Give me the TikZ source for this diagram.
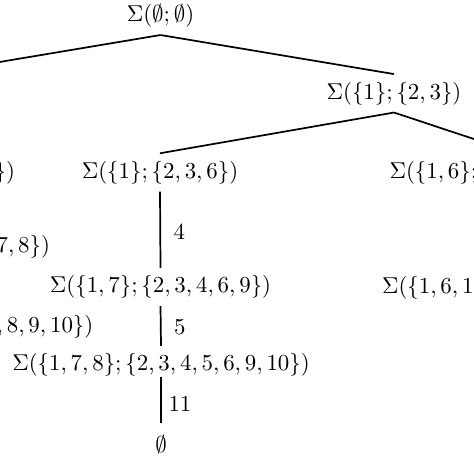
\documentclass[tikz,border=0pt]{standalone}
\begin{document}
\begin{tikzpicture}[x=0.437pt, y=-0.437pt,
  tnode/.style={inner sep=0pt, outer sep=3.4pt, text height=7.5pt, text depth=2.5pt},
  frag/.style={inner sep=0pt, outer sep=0pt, text height=7.5pt, text depth=2.5pt},
  lab/.style={inner sep=0pt},
  edge/.style={line width=0.75pt}]
\useasboundingbox (0,0) rectangle (474,474);
\clip (0,0) rectangle (474,474);
% nodes
\node[tnode] (root) at (160.5,15.8) {$\Sigma(\emptyset;\emptyset)$};
\coordinate (lchild) at (-72,74);
\node[tnode] (R) at (394,93.3) {$\Sigma(\{1\};\{2,3\})$};
\node[tnode] (A) at (160,172.5) {$\Sigma(\{1\};\{2,3,6\})$};
\coordinate (rchild) at (513,152);
\node[frag, anchor=west] (B) at (389.5,172.5) {$\Sigma(\{1,6\};$};
\node[tnode] (C) at (160.5,287) {$\Sigma(\{1,7\};\{2,3,4,6,9\})$};
\node[frag, anchor=west] (D) at (382,287.5) {$\Sigma(\{1,6,1$};
\node[tnode] (E) at (161,365) {$\Sigma(\{1,7,8\};\{2,3,4,5,6,9,10\})$};
\node[tnode] (F) at (161,446.7) {$\emptyset$};
% clipped fragments on the left
\node[frag, anchor=east] (L1) at (15,172.5) {$\})$};
\node[frag, anchor=east] (L2) at (50,246.5) {$7,8\})$};
\node[frag, anchor=east] (L3) at (93.3,326.5) {$,8,9,10\})$};
% edges
\draw[edge] (root.south) -- (lchild);
\draw[edge] (root.south) -- (R.north);
\draw[edge] (R.south) -- (A.north);
\draw[edge] (R.south) -- (rchild);
\draw[edge] (A.south) -- node[lab, xshift=8.3pt, yshift=-1pt] {$4$} (C.north);
\draw[edge] (C.south) -- node[lab, xshift=8.3pt, yshift=-0.5pt] {$5$} (E.north);
\draw[edge] ([yshift=3.1pt]E.south) -- node[lab, xshift=8.3pt, yshift=-1.7pt] {$11$} ([yshift=2pt]F.north);
\end{tikzpicture}
\end{document}
